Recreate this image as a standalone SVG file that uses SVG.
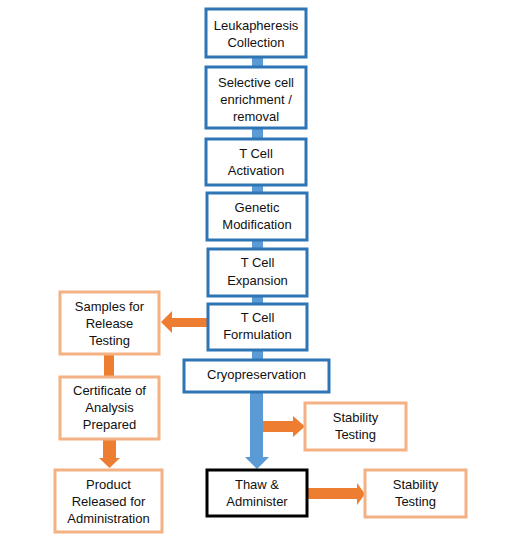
<svg xmlns="http://www.w3.org/2000/svg" width="522" height="546" viewBox="0 0 522 546">
<style>
.b{fill:#fff;stroke:#2E75B6;stroke-width:3}
.o{fill:#fff;stroke:#F4B183;stroke-width:3}
.k{fill:#fff;stroke:#000;stroke-width:3}
.c{fill:#5B9BD5}
.a{fill:#ED7D31}
text{font-family:"Liberation Sans",Arial,sans-serif;font-size:13px;fill:#111;text-anchor:middle}
</style>
<rect width="522" height="546" fill="#fff"/>
<g id="connectors">
<rect class="c" x="252" y="56" width="11" height="11"/>
<rect class="c" x="252" y="127" width="11" height="12"/>
<rect class="c" x="252" y="184" width="11" height="9"/>
<rect class="c" x="252" y="240" width="11" height="9"/>
<rect class="c" x="252" y="296" width="11" height="8"/>
<rect class="c" x="252" y="350" width="11" height="10"/>
<polygon class="c" points="250,392 263,392 263,457 269,457 257,469 245,457 250,457"/>
<polygon class="a" points="207,318 172,318 172,311 161,322 172,333 172,327 207,327"/>
<rect class="a" x="104" y="353" width="10" height="24"/>
<polygon class="a" points="103,439 116,439 116,458 120,458 109.5,468 99,458 103,458"/>
<polygon class="a" points="263,421 293,421 293,416 305,426.5 293,437 293,432 263,432"/>
<polygon class="a" points="308,488 357,488 357,483 365,494 357,505 357,499 308,499"/>
</g>
<g id="n1"><rect class="b" x="206" y="9" width="100" height="48"/><text x="256" y="29.5">Leukapheresis</text><text x="256" y="46.5">Collection</text></g>
<g id="n2"><rect class="b" x="206" y="67" width="100" height="61"/><text x="256" y="86.5">Selective cell</text><text x="256" y="103.5">enrichment /</text><text x="256" y="120.5">removal</text></g>
<g id="n3"><rect class="b" x="206" y="139" width="100" height="46"/><text x="256" y="157.5">T Cell</text><text x="256" y="174.5">Activation</text></g>
<g id="n4"><rect class="b" x="207" y="193" width="100" height="47"/><text x="257" y="211.5">Genetic</text><text x="257" y="228.5">Modification</text></g>
<g id="n5"><rect class="b" x="208" y="249" width="99" height="47"/><text x="257.5" y="266.5">T Cell</text><text x="257.5" y="284.5">Expansion</text></g>
<g id="n6"><rect class="b" x="208" y="304" width="99" height="46"/><text x="257.5" y="321.5">T Cell</text><text x="257.5" y="338.5">Formulation</text></g>
<g id="n7"><rect class="b" x="184" y="360" width="145" height="32"/><text x="256.5" y="378.5">Cryopreservation</text></g>
<g id="n8"><rect class="o" x="60" y="292" width="99" height="62"/><text x="109.5" y="310.5">Samples for</text><text x="109.5" y="327.5">Release</text><text x="109.5" y="344.5">Testing</text></g>
<g id="n9"><rect class="o" x="60" y="377" width="99" height="62"/><text x="109.5" y="394.5">Certificate of</text><text x="109.5" y="411.5">Analysis</text><text x="109.5" y="428.5">Prepared</text></g>
<g id="n10"><rect class="o" x="55" y="470" width="107" height="62"/><text x="108.5" y="488.5">Product</text><text x="108.5" y="505.5">Released for</text><text x="108.5" y="522.5">Administration</text></g>
<g id="n11"><rect class="k" x="207" y="470" width="100" height="46"/><text x="257" y="488.5">Thaw &amp;</text><text x="257" y="505.5">Administer</text></g>
<g id="n12"><rect class="o" x="305" y="403" width="101" height="47"/><text x="355.5" y="421.5">Stability</text><text x="355.5" y="438.5">Testing</text></g>
<g id="n13"><rect class="o" x="365" y="470" width="101" height="47"/><text x="415.5" y="488.5">Stability</text><text x="415.5" y="505.5">Testing</text></g>
</svg>
